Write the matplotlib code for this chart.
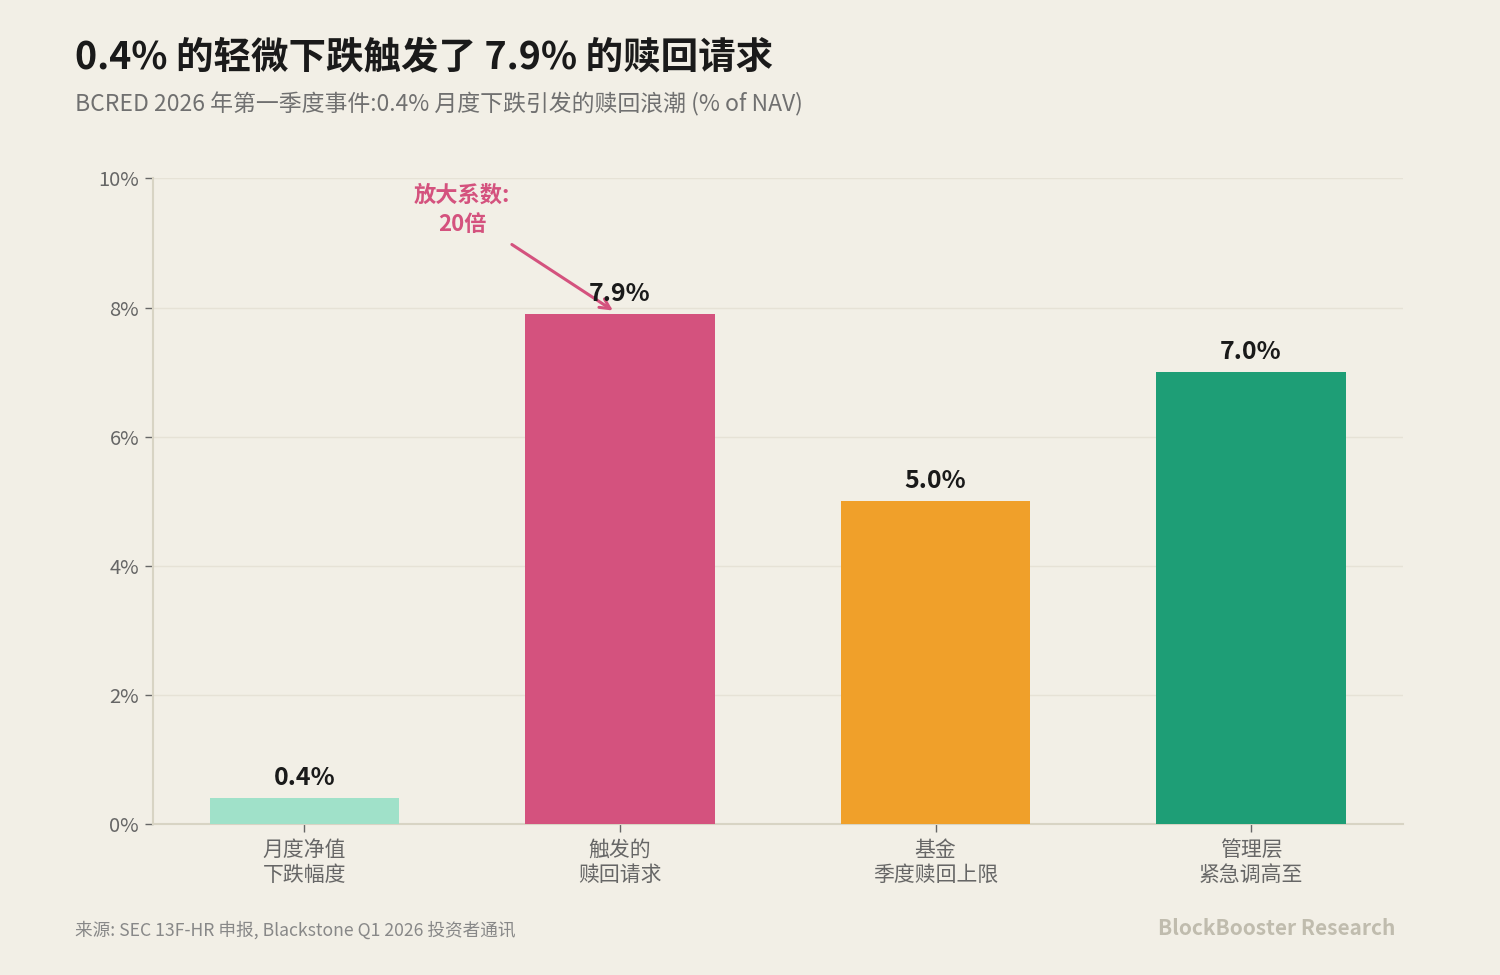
import matplotlib
matplotlib.use('Agg')
import matplotlib.pyplot as plt
from matplotlib.ticker import FuncFormatter

plt.rcParams['font.family'] = ['Noto Sans CJK SC', 'DejaVu Sans']

# 데이터
categories = ['月度净值\n下跌幅度', '触发的\n赎回请求', '基金\n季度赎回上限', '管理层\n紧急调高至']
values = [0.4, 7.9, 5.0, 7.0]
value_labels = ['0.4%', '7.9%', '5.0%', '7.0%']
colors = ['#a0e1c9', '#d4527e', '#f0a02a', '#1e9e76']
y_ticks = [0, 2, 4, 6, 8, 10]

bg = '#f2efe6'
fig = plt.figure(figsize=(15, 9.75), dpi=100, facecolor=bg)
ax = fig.add_axes([0.102, 0.155, 0.833, 0.662], facecolor=bg)

x = range(len(categories))
bars = ax.bar(x, values, width=0.6, color=colors, zorder=3)

for b, lab in zip(bars, value_labels):
    ax.annotate(lab, (b.get_x() + b.get_width() / 2, b.get_height()),
                xytext=(0, 6), textcoords='offset points',
                ha='center', va='bottom', fontsize=18, fontweight='bold',
                color='#1a1a1a', zorder=4)

ax.set_xlim(-0.48, 3.48)
ax.set_ylim(0, 10)
ax.set_yticks(y_ticks)
ax.yaxis.set_major_formatter(FuncFormatter(lambda v, p: f'{v:.0f}%'))
ax.set_xticks(list(x))
ax.set_xticklabels(categories, fontsize=15, color='#666666', linespacing=1.15)
ax.tick_params(axis='y', labelsize=14.5, labelcolor='#666666', color='#666666',
               length=6, width=1, pad=4)
ax.tick_params(axis='x', color='#666666', length=6, width=1, pad=5)

ax.grid(axis='y', color='#e6e2d6', linewidth=1, zorder=0)
for s in ['top', 'right']:
    ax.spines[s].set_visible(False)
for s in ['left', 'bottom']:
    ax.spines[s].set_color('#d8d4c4')
    ax.spines[s].set_linewidth(1.5)

# 주석
ax.annotate('', xy=(0.985, 7.93), xytext=(0.65, 9.0),
            arrowprops=dict(arrowstyle='->', color='#d4527e', lw=2.2,
                            mutation_scale=18))
ax.text(0.5, 9.52, '放大系数:\n20倍', ha='center', va='center', fontsize=16,
        fontweight='bold', color='#d4527e', linespacing=1.35)

# 제목
fig.text(0.05, 0.942, '0.4% 的轻微下跌触发了 7.9% 的赎回请求', fontsize=27,
         fontweight='bold', color='#1a1a1a', va='center')
fig.text(0.05, 0.893, 'BCRED 2026 年第一季度事件:0.4% 月度下跌引发的赎回浪潮 (% of NAV)',
         fontsize=16.5, color='#707070', va='center')
fig.text(0.05, 0.046, '来源: SEC 13F-HR 申报, Blackstone Q1 2026 投资者通讯',
         fontsize=12.7, color='#888888', va='center')
fig.text(0.93, 0.048, 'BlockBooster Research', fontsize=15, fontweight='bold',
         color='#c0bcae', ha='right', va='center')

fig.savefig('out.png', dpi=100, facecolor=bg)
